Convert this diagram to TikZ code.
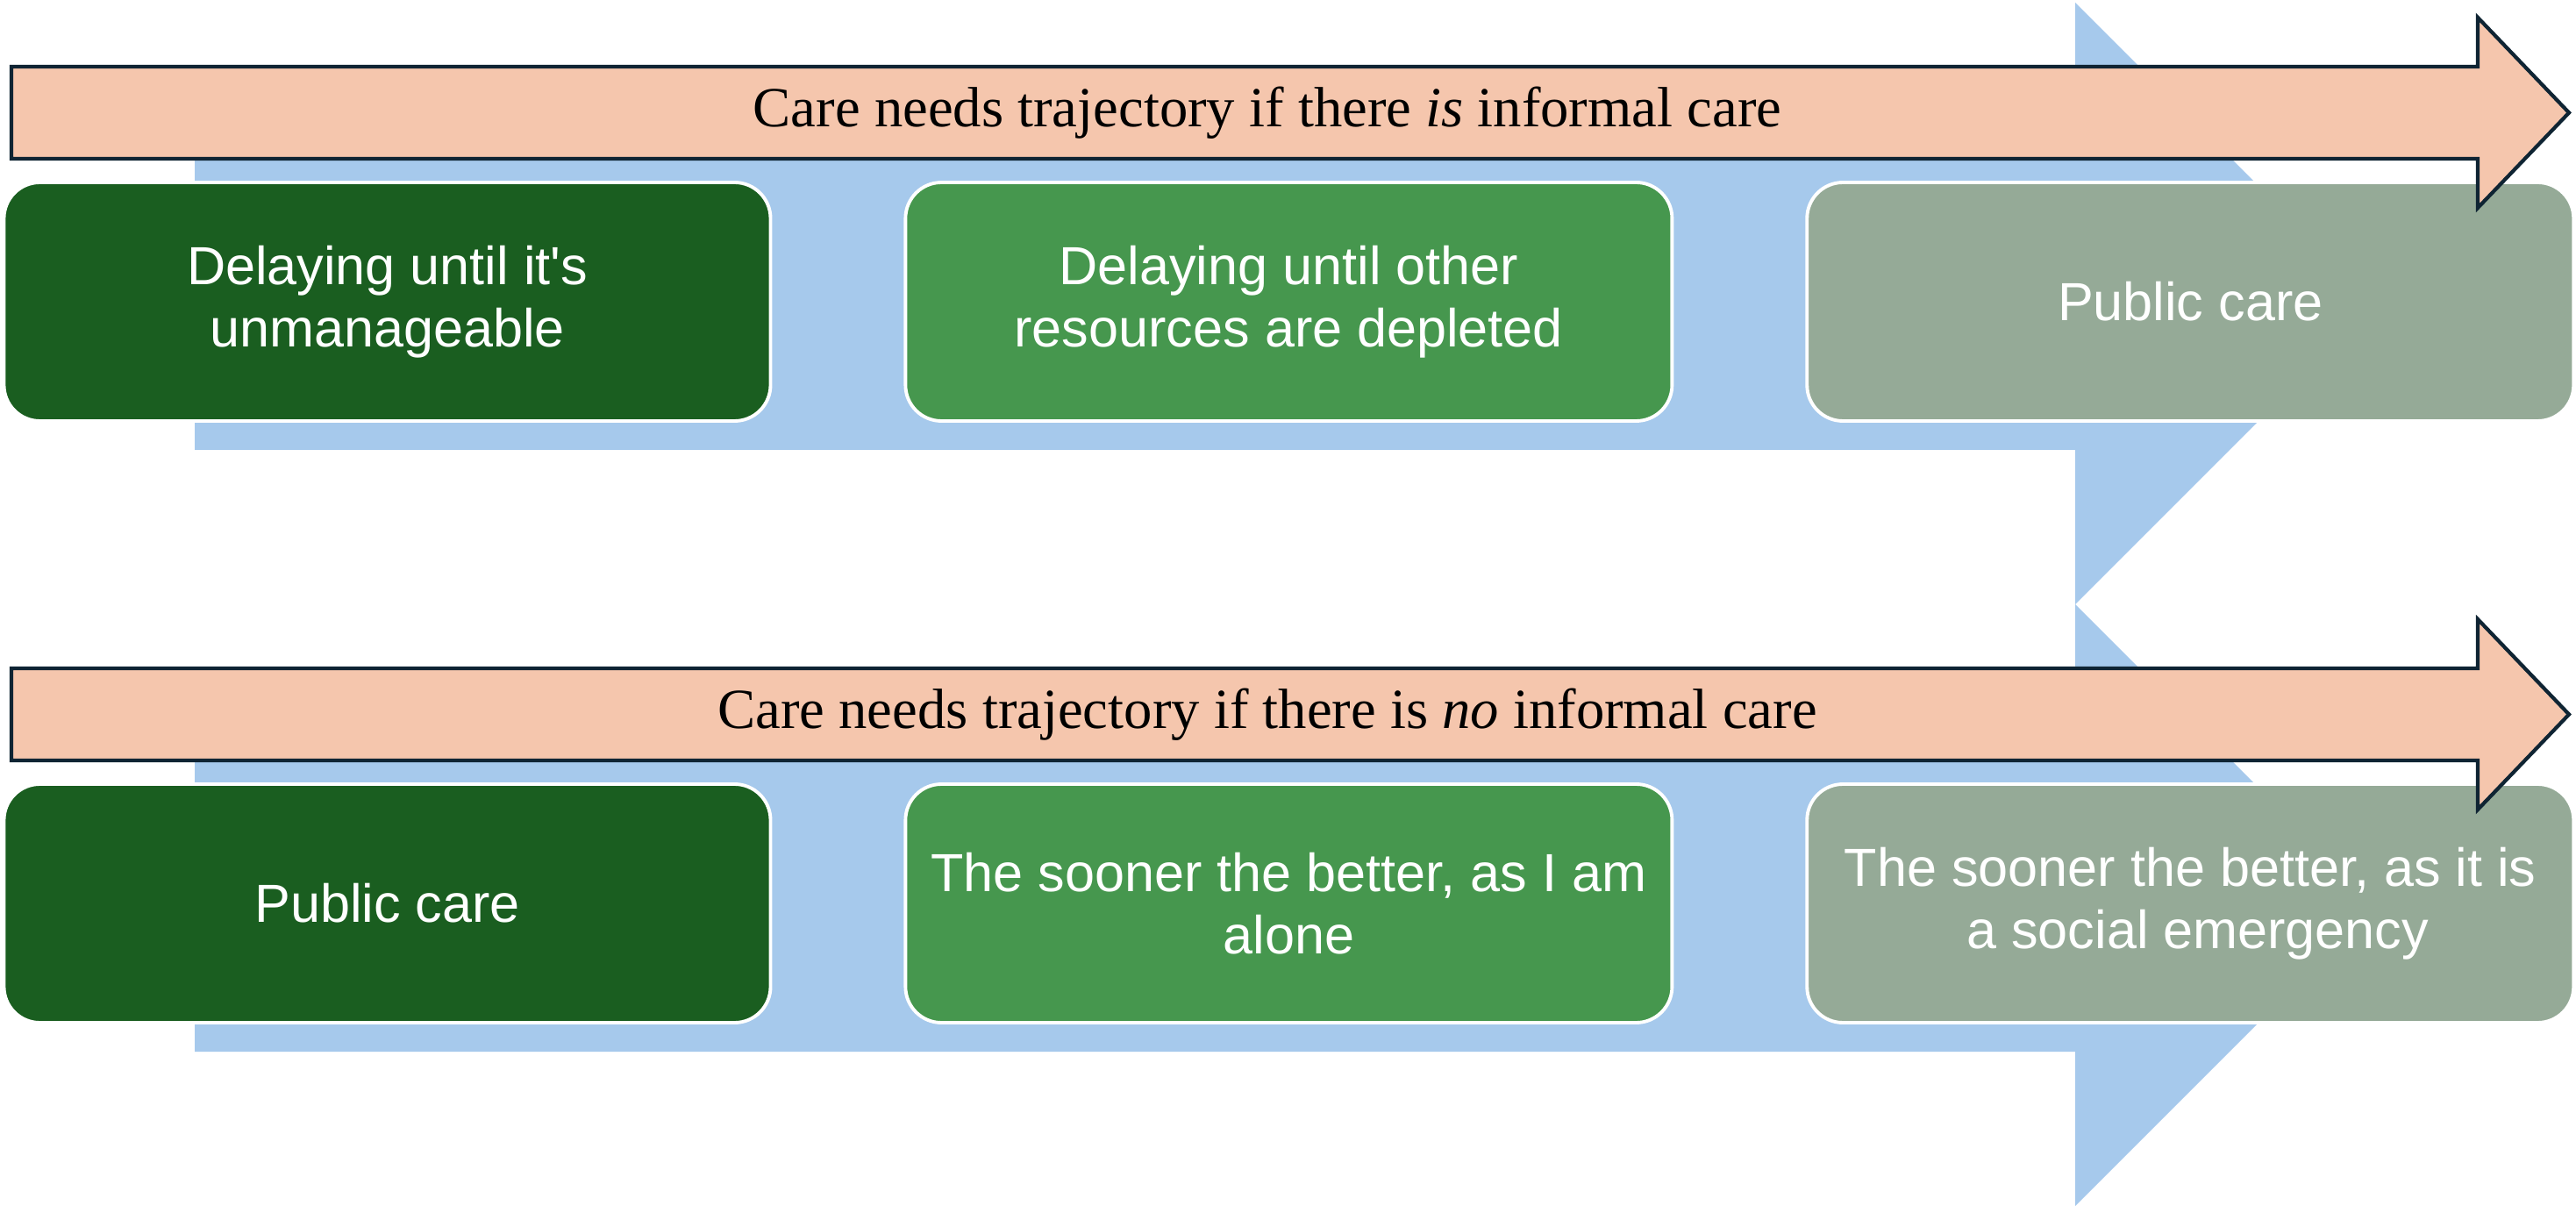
\documentclass[tikz,border=0pt]{standalone}
\usepackage{fontspec}
\setmainfont{Liberation Sans}
\newfontfamily\bannerfont{Liberation Serif}
\usetikzlibrary{positioning}

\definecolor{flowblue}{HTML}{A6C9EC}
\definecolor{bandfill}{HTML}{F5C6AD}
\definecolor{bandline}{HTML}{0F2433}
\definecolor{darkgreen}{HTML}{1A5E20}
\definecolor{midgreen}{HTML}{46974E}
\definecolor{greygreen}{HTML}{95AA97}

\begin{document}
\begin{tikzpicture}[
    box/.style={draw=white, line width=1.1pt, rounded corners=0.41cm, minimum width=8.74cm, minimum height=2.72cm, align=center, text=white, font=\fontsize{17.4}{20.3}\selectfont},
    flow/.style={fill=flowblue},
    band/.style={fill=bandfill, draw=bandline, line width=1.2pt, line join=miter},
    bandtext/.style={font=\bannerfont\fontsize{18.4}{22}\selectfont},
    node distance=1.5cm
  ]
  \useasboundingbox (0,0) rectangle (29.37,-13.75);

  % blue flow arrows behind everything
  \foreach \dy in {0,6.86}{
    \fill[flow, yshift=-\dy cm] (2.22,-1.80) -- (23.66,-1.80) -- (23.66,-0.03) -- (27.09,-3.46)
      -- (23.66,-6.89) -- (23.66,-5.13) -- (2.22,-5.13) -- cycle;
  }

  % first trajectory
  \node[box, fill=darkgreen] (d1) at (4.415,-3.44) {Delaying until it\textquotesingle s\\unmanageable};
  \node[box, fill=midgreen, right=of d1] (d2) {Delaying until other\\resources are depleted};
  \node[box, fill=greygreen, right=of d2] (d3) {Public care};

  % second trajectory
  \node[box, fill=darkgreen] (n1) at (4.415,-10.30) {Public care};
  \node[box, fill=midgreen, right=of n1] (n2) {The sooner the better, as I am\\alone};
  \node[box, fill=greygreen, right=of n2] (n3) {The sooner the better, as it is\\\ a social emergency};

  % salmon banners on top
  \foreach \dy in {0,6.86}{
    \draw[band, yshift=-\dy cm] (0.13,-0.76) -- (28.25,-0.76) -- (28.25,-0.20) -- (29.29,-1.285)
      -- (28.25,-2.37) -- (28.25,-1.81) -- (0.13,-1.81) -- cycle;
  }
  \node[bandtext] (t1) at (14.45,-1.285) {Care needs trajectory if there \textit{is} informal care};
  \node[bandtext] (t2) at (14.45,-8.145) {Care needs trajectory if there is \textit{no} informal care};
\end{tikzpicture}
\end{document}
